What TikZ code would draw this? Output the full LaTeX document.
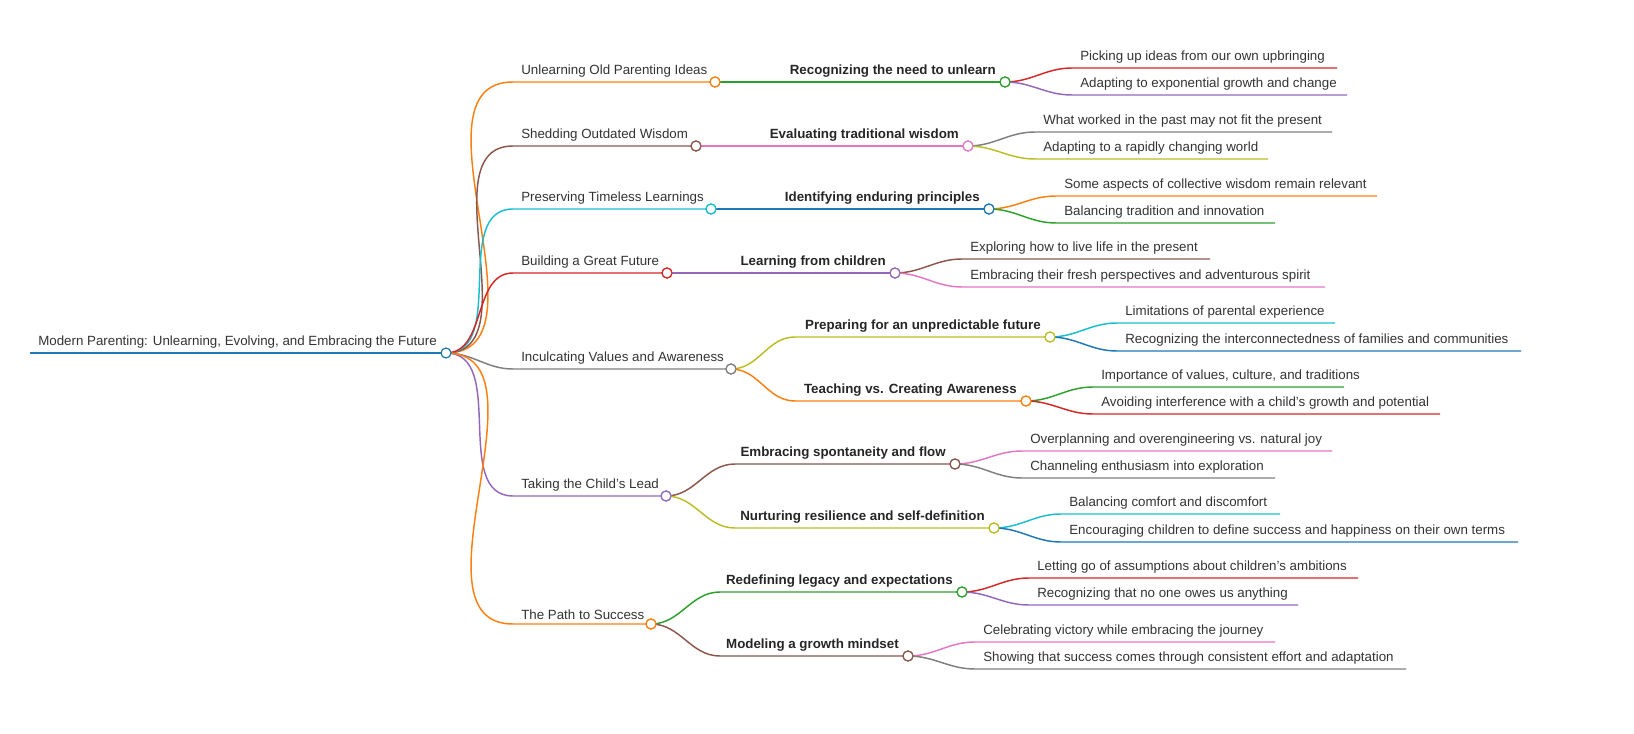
\documentclass[tikz,border=0pt]{standalone}
\usepackage{fontspec}
\setmainfont{Liberation Sans}
\definecolor{cB}{HTML}{1F77B4}\definecolor{cO}{HTML}{FF7F0E}\definecolor{cG}{HTML}{2CA02C}
\definecolor{cR}{HTML}{D62728}\definecolor{cP}{HTML}{9467BD}\definecolor{cN}{HTML}{8C564B}
\definecolor{cK}{HTML}{E377C2}\definecolor{cY}{HTML}{7F7F7F}\definecolor{cL}{HTML}{BCBD22}
\definecolor{cC}{HTML}{17BECF}
\newcommand{\fs}{\fontsize{10}{12}\selectfont}
\begin{document}
\begin{tikzpicture}[x=0.75pt,y=-0.75pt,
  dot/.style={circle,draw,fill=white,inner sep=0,minimum size=7.5pt,line width=0.9pt},
  ln/.style={line width=1.1pt},
  lw/.style={font=\fs,anchor=south west,inner sep=0,yshift=3pt,text=black!80},
  le/.style={font=\fs\bfseries,anchor=south east,inner sep=0,yshift=3pt,text=black!85}]
\useasboundingbox (0,0) rectangle (1634,734);
% root
\coordinate (r0) at (30,353);
\draw[ln,cB] (r0) -- (446,353);
\node[lw] (rt) at (38,353) {Modern Parenting: Unlearning, Evolving, and Embracing the Future};
% level 1
\foreach \id/\y/\cx/\col/\txt in {
 1/82/715/cO/{Unlearning Old Parenting Ideas},
 2/146/696/cN/{Shedding Outdated Wisdom},
 3/209/711/cC/{Preserving Timeless Learnings},
 4/273/667/cR/{Building a Great Future},
 5/369/731/cY/{Inculcating Values and Awareness},
 6/496/666/cP/{Taking the Child's Lead},
 7/624/651/cO/{The Path to Success}}{
 \coordinate (s\id) at (513,\y);
 \draw[ln,\col] (446,353) to[out=0,in=180] (s\id) -- (\cx,\y);
 \node[lw] (t\id) at (521,\y) {\txt};
 \node[dot,draw=\col] (p\id) at (\cx,\y) {};
}
\node[dot,draw=cB] (root) at (446,353) {};
% level 2
\foreach \id/\pn/\y/\sx/\cx/\col/\txt in {
 1/p1/82/760/1005/cG/{Recognizing the need to unlearn},
 2/p2/146/745/968/cK/{Evaluating traditional wisdom},
 3/p3/209/760/989/cB/{Identifying enduring principles},
 4/p4/273/720/895/cP/{Learning from children},
 5/p5/337/795/1050/cL/{Preparing for an unpredictable future},
 6/p5/401/795/1026/cO/{Teaching vs. Creating Awareness},
 7/p6/464/735/955/cN/{Embracing spontaneity and flow},
 8/p6/528/735/994/cL/{Nurturing resilience and self-definition},
 9/p7/592/720/962/cG/{Redefining legacy and expectations},
 10/p7/656/720/908/cN/{Modeling a growth mindset}}{
 \coordinate (u\id) at (\sx,\y);
 \draw[ln,\col] (\pn.center) to[out=0,in=180] (u\id) -- (\cx,\y);
 \node[le] (v\id) at (\cx-9,\y) {\txt};
 \node[dot,draw=\col] (q\id) at (\cx,\y) {};
}
\foreach \i/\c in {1/cO,2/cN,3/cC,4/cR,5/cY,6/cP,7/cO}{\node[dot,draw=\c] at (p\i) {};}
% level 3
\foreach \id/\pn/\y/\sx/\ex/\col/\txt in {
 1/q1/68/1072/1337/cR/{Picking up ideas from our own upbringing},
 2/q1/95/1072/1347/cP/{Adapting to exponential growth and change},
 3/q2/132/1035/1332/cY/{What worked in the past may not fit the present},
 4/q2/159/1035/1268/cL/{Adapting to a rapidly changing world},
 5/q3/196/1056/1377/cO/{Some aspects of collective wisdom remain relevant},
 6/q3/223/1056/1275/cG/{Balancing tradition and innovation},
 7/q4/259/962/1210/cN/{Exploring how to live life in the present},
 8/q4/287/962/1325/cK/{Embracing their fresh perspectives and adventurous spirit},
 9/q5/323/1117/1335/cC/{Limitations of parental experience},
 10/q5/351/1117/1521/cB/{Recognizing the interconnectedness of families and communities},
 11/q6/387/1093/1344/cG/{Importance of values, culture, and traditions},
 12/q6/414/1093/1440/cR/{Avoiding interference with a child's growth and potential},
 13/q7/451/1022/1332/cK/{Overplanning and overengineering vs. natural joy},
 14/q7/478/1022/1275/cY/{Channeling enthusiasm into exploration},
 15/q8/514/1061/1280/cC/{Balancing comfort and discomfort},
 16/q8/542/1061/1518/cB/{Encouraging children to define success and happiness on their own terms},
 17/q9/578/1029/1358/cR/{Letting go of assumptions about children's ambitions},
 18/q9/605/1029/1298/cP/{Recognizing that no one owes us anything},
 19/q10/642/975/1275/cK/{Celebrating victory while embracing the journey},
 20/q10/669/975/1406/cY/{Showing that success comes through consistent effort and adaptation}}{
 \coordinate (w\id) at (\sx,\y);
 \coordinate (e\id) at (\ex,\y);
 \draw[ln,\col] (\pn.center) to[out=0,in=180] (w\id) -- (e\id);
 \node[lw] (x\id) at (\sx+8,\y) {\txt};
}
\foreach \i/\c in {1/cG,2/cK,3/cB,4/cP,5/cL,6/cO,7/cN,8/cL,9/cG,10/cN}{\node[dot,draw=\c] at (q\i) {};}
\end{tikzpicture}
\end{document}
